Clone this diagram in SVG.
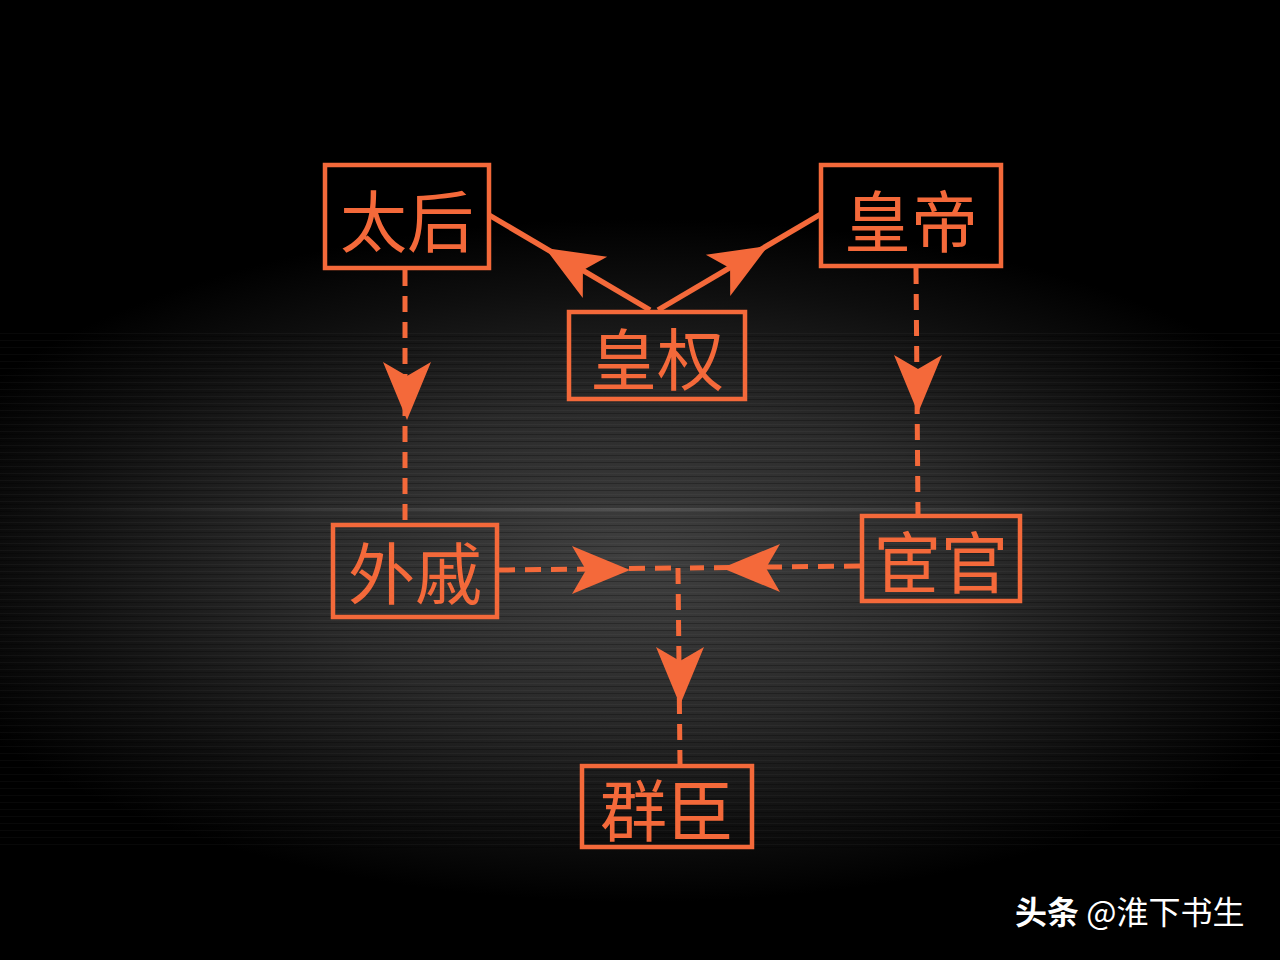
<svg xmlns="http://www.w3.org/2000/svg" xmlns:xlink="http://www.w3.org/1999/xlink" width="1280" height="960" viewBox="0 0 1280 960">
<style>
.box{fill:none;stroke:#f4693a;stroke-width:4.5}
.lbl{font-family:"Noto Sans CJK SC","Noto Sans",sans-serif;font-size:67px;font-weight:400;fill:#f4693a;text-anchor:middle;dominant-baseline:central}
.solid{stroke:#f4693a;stroke-width:5.5;fill:none}
.dash{stroke:#f4693a;stroke-width:5;fill:none;stroke-dasharray:16 10}
.head{fill:#f4693a}
.wm{font-family:"Noto Sans CJK SC","Noto Sans",sans-serif;font-size:32px;fill:#ffffff}
</style>
<defs>
<radialGradient id="bg" cx="640" cy="560" r="760" gradientUnits="userSpaceOnUse" gradientTransform="translate(640 560) scale(1 0.45) translate(-640 -560)">
<stop offset="0" stop-color="#404040"/>
<stop offset="0.45" stop-color="#2a2a2a"/>
<stop offset="0.8" stop-color="#0e0e0e"/>
<stop offset="1" stop-color="#000"/>
</radialGradient>
<linearGradient id="band" x1="0" y1="0" x2="1" y2="0">
<stop offset="0" stop-color="#fff" stop-opacity="0"/>
<stop offset="0.5" stop-color="#fff" stop-opacity="0.12"/>
<stop offset="1" stop-color="#fff" stop-opacity="0"/>
</linearGradient>
<pattern id="brush" width="1280" height="7" patternUnits="userSpaceOnUse">
<rect x="0" y="0" width="1280" height="1" fill="#000" opacity="0.25"/>
<rect x="0" y="4" width="1280" height="1" fill="#fff" opacity="0.03"/>
</pattern>
<path id="dart" d="M0,0 L-58,-24 L-44,0 L-58,24 Z"/>
</defs>
<rect width="1280" height="960" fill="#000"/>
<rect width="1280" height="960" fill="url(#bg)"/>
<rect x="0" y="330" width="1280" height="520" fill="url(#brush)"/>
<rect x="0" y="508" width="1280" height="4" fill="url(#band)"/>

<g id="connectors">
<line class="solid" x1="650" y1="310" x2="489" y2="215"/>
<line class="solid" x1="658" y1="310" x2="821" y2="214"/>
<line class="dash" x1="405" y1="270" x2="405" y2="523"/>
<line class="dash" x1="916" y1="268" x2="918" y2="514"/>
<line class="dash" x1="499" y1="570" x2="678" y2="568"/>
<line class="dash" x1="860" y1="566" x2="690" y2="568"/>
<line class="dash" x1="678" y1="568" x2="680" y2="764"/>
<use href="#dart" class="head" transform="translate(545 248) rotate(210.5)"/>
<use href="#dart" class="head" transform="translate(768 246) rotate(-30.5)"/>
<use href="#dart" class="head" transform="translate(407 420) rotate(90)"/>
<use href="#dart" class="head" transform="translate(918 413) rotate(90)"/>
<use href="#dart" class="head" transform="translate(630 570) rotate(0)"/>
<use href="#dart" class="head" transform="translate(722 568) rotate(180)"/>
<use href="#dart" class="head" transform="translate(680 705) rotate(90)"/>
</g>

<g id="n-taihou"><rect class="box" x="325" y="165" width="164" height="103"/><text class="lbl" x="407" y="217">太后</text></g>
<g id="n-huangdi"><rect class="box" x="821" y="165" width="180" height="101"/><text class="lbl" x="911" y="217">皇帝</text></g>
<g id="n-huangquan"><rect class="box" x="569" y="312" width="176" height="87"/><text class="lbl" x="657" y="355">皇权</text></g>
<g id="n-waiqi"><rect class="box" x="333" y="525" width="164" height="92"/><text class="lbl" x="415" y="569">外戚</text></g>
<g id="n-huanguan"><rect class="box" x="862" y="516" width="158" height="85"/><text class="lbl" x="941" y="558">宦官</text></g>
<g id="n-qunchen"><rect class="box" x="582" y="766" width="170" height="81"/><text class="lbl" x="667" y="806">群臣</text></g>

<g id="watermark"><text class="wm" x="1015" y="924"><tspan font-weight="bold">头条</tspan> @淮下书生</text></g>
</svg>
